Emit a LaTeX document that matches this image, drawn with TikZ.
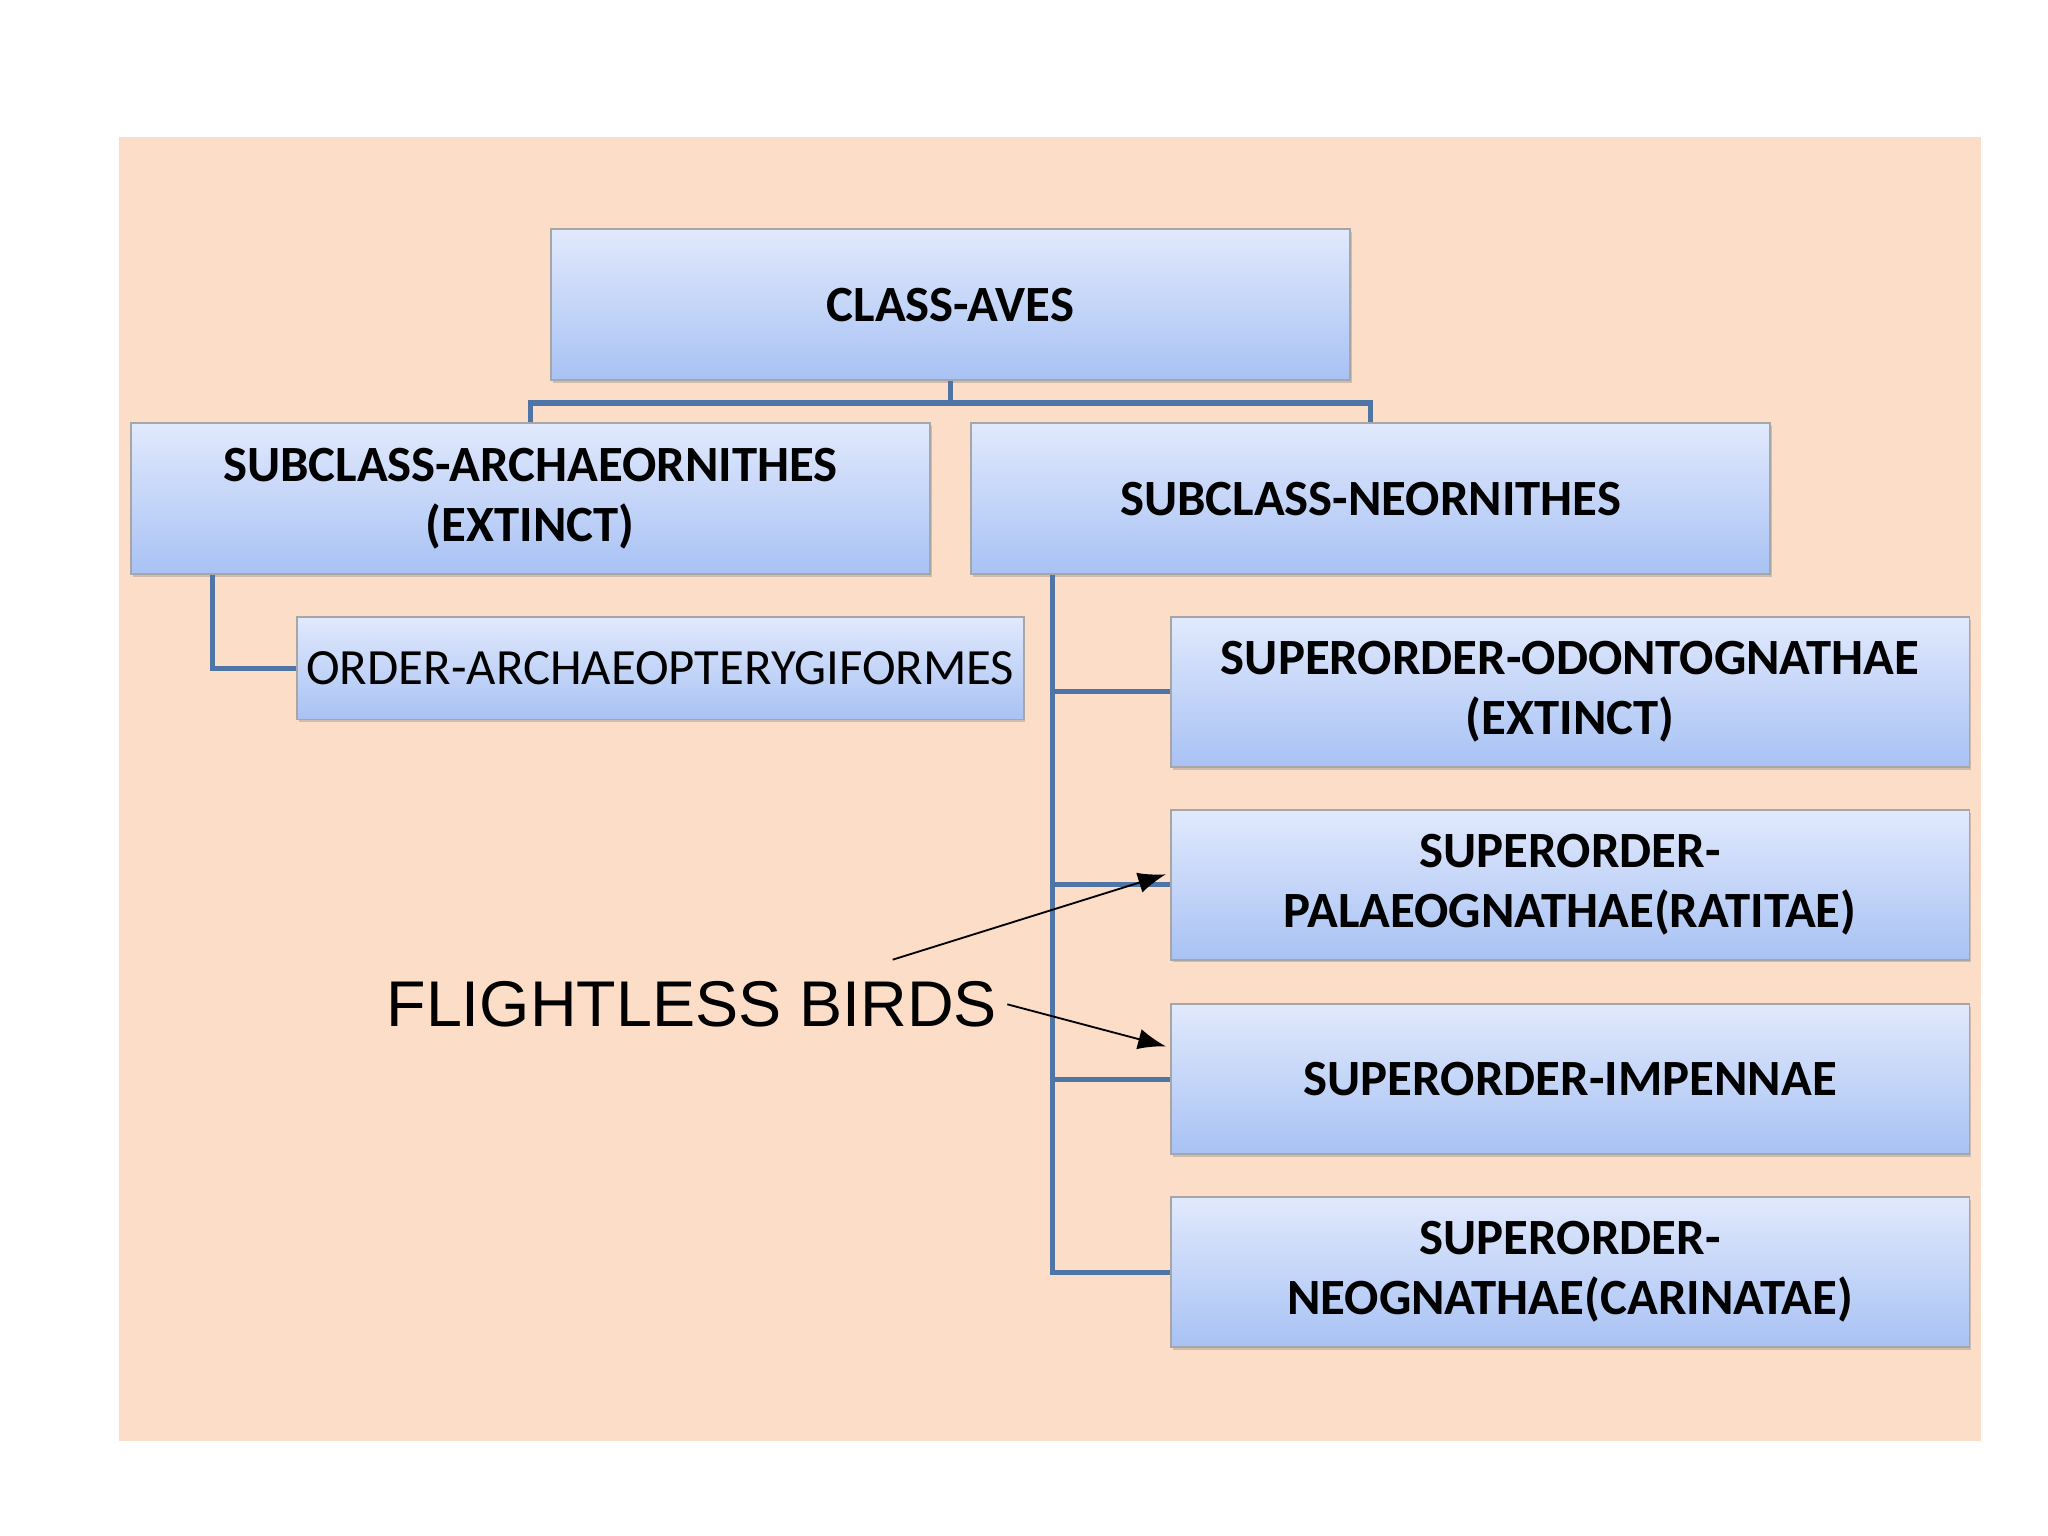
\documentclass[tikz,border=0pt]{standalone}
\usepackage{fontspec}
\setmainfont{Carlito}
\newfontfamily\arialfont{Liberation Sans}
\usetikzlibrary{arrows.meta,shadows}
\definecolor{peach}{HTML}{FCDDC8}
\definecolor{boxtop}{HTML}{E1E9FC}
\definecolor{boxbot}{HTML}{A8C2F4}
\definecolor{linkblue}{HTML}{4F74A6}

\tikzset{
  taxon/.style={draw=gray!70, top color=boxtop, bottom color=boxbot, align=center,
    font=\fontsize{11pt}{13pt}\selectfont\bfseries, inner sep=2pt,
    drop shadow={shadow xshift=0.4pt, shadow yshift=-0.6pt, opacity=0.35}},
  link/.style={draw=linkblue, line width=1.1pt},
}

\begin{document}
\begin{tikzpicture}[x=0.01cm, y=-0.01cm]

            \useasboundingbox (0,0) rectangle (1560,1170);
            \fill[peach] (91,104) rectangle (1509,1098);

            \node[taxon, minimum width=6.08cm, minimum height=1.15cm] (aves) at (724,232) {CLASS-AVES};
            \node[taxon, minimum width=6.08cm, minimum height=1.15cm] (archaeo) at (404,380) {SUBCLASS-ARCHAEORNITHES\\(EXTINCT)};
            \node[taxon, minimum width=6.08cm, minimum height=1.15cm] (neo) at (1044,380) {SUBCLASS-NEORNITHES};
            \node[taxon, minimum width=5.01cm, minimum height=0.78cm, font=\fontsize{11pt}{13pt}\selectfont] (order) at (503,509) {ORDER-ARCHAEOPTERYGIFORMES};
            \node[taxon, minimum width=6.08cm, minimum height=1.14cm] (odonto) at (1196,527) {SUPERORDER-ODONTOGNATHAE\\(EXTINCT)};
            \node[taxon, minimum width=6.08cm, minimum height=1.14cm] (palaeo) at (1196,674) {SUPERORDER-\\PALAEOGNATHAE(RATITAE)};
            \node[taxon, minimum width=6.08cm, minimum height=1.14cm] (impen) at (1196,822) {SUPERORDER-IMPENNAE};
            \node[taxon, minimum width=6.08cm, minimum height=1.14cm] (neog) at (1196,969) {SUPERORDER-\\NEOGNATHAE(CARINATAE)};

            \coordinate (split) at (724,307);
            \draw[link] (aves.south) -- (split);
            \draw[link] (archaeo.north) |- (split) -| (neo.north);
            \draw[link] (archaeo.south -| 162,0) |- (order.west);
            \draw[link] (neo.south -| 802,0) |- (neog.west);
            \draw[link] (odonto.west) -- (odonto.west -| 802,0);
            \draw[link] (palaeo.west) -- (palaeo.west -| 802,0);
            \draw[link] (impen.west) -- (impen.west -| 802,0);

            \node[font=\arialfont\fontsize{14pt}{16pt}\selectfont, inner sep=2pt] (flight) at (527,765) {FLIGHTLESS BIRDS};
            \coordinate (tail) at (680,731);
            \coordinate (tip1) at (888,666);
            \coordinate (tip2) at (888,797);
            \draw[-{Latex[length=6pt]}, thin] (tail) -- (tip1);
            \draw[-{Latex[length=6pt]}, thin] (flight.east) -- (tip2);

        \end{tikzpicture}
\end{document}
